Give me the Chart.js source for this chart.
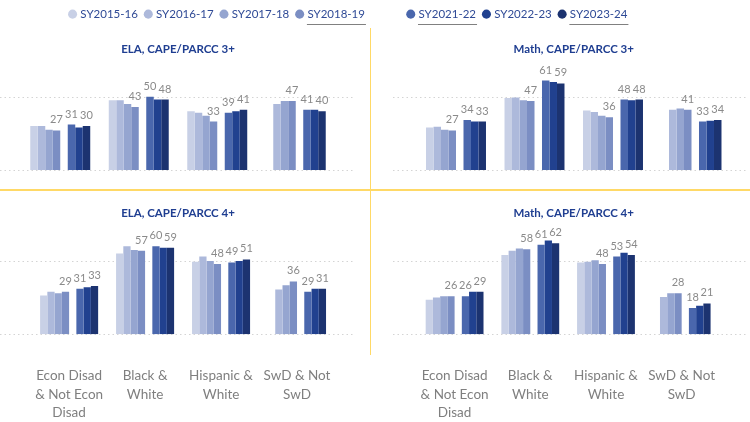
<!DOCTYPE html>
<html>
<head>
<meta charset="utf-8">
<script src="https://cdn.jsdelivr.net/npm/chart.js@4.4.0/dist/chart.umd.min.js"></script>
<style>
  html, body { margin: 0; padding: 0; background: #fff; overflow: hidden; }
  #page { position: relative; width: 750px; height: 422px; }
  canvas { position: absolute; }
  .rule { position: absolute; background: #ffd966; }
</style>
</head>
<body>
<div id="page">
  <div class="rule" style="left:0;top:189px;width:750px;height:1.5px"></div>
  <div class="rule" style="left:369.5px;top:28px;width:1.5px;height:327px"></div>
  <canvas id="legend" width="750" height="80" style="left:0;top:0"></canvas>
  <canvas id="ela3" width="370" height="160" style="left:0;top:30px"></canvas>
  <canvas id="math3" width="375" height="160" style="left:375px;top:30px"></canvas>
  <canvas id="ela4" width="370" height="232" style="left:0;top:190px"></canvas>
  <canvas id="math4" width="375" height="232" style="left:375px;top:190px"></canvas>
</div>
<script>
// Categories and series
const categories = [['Econ Disad', '& Not Econ', 'Disad'], ['Black &', 'White'], ['Hispanic &', 'White'], ['SwD & Not', 'SwD']];
const seriesNames = ['SY2015-16', 'SY2016-17', 'SY2017-18', 'SY2018-19', 'SY2021-22', 'SY2022-23', 'SY2023-24'];
const seriesColors = ['#c8d0e6', '#adb9db', '#95a5d0', '#7b8ec3', '#4a67ad', '#21418f', '#1c3370'];
const labelledSeries = ['SY2018-19', 'SY2021-22', 'SY2023-24'];
const gridValues = [0, 50];

// One row per series (same order as seriesNames), one value per category
const elaLevel3 = [
    [30, 47.5, 40, null],
    [30, 47.5, 39, 45],
    [27.5, 45, 37, 47],
    [27, 43, 33, 47],
    [31, 50, 39, 41],
    [29, 48, 40, 41],
    [30, 48, 41, 40]
];
const mathLevel3 = [
    [29, 49, 40.5, null],
    [29.5, 49.5, 39.5, 41],
    [27.5, 47.5, 37, 42],
    [27, 47, 36, 41],
    [34, 61, 48, 33],
    [33, 60, 47.5, 33.5],
    [33, 59, 48, 34]
];
const elaLevel4 = [
    [26.5, 55, 49.5, null],
    [29, 60, 53, 30.5],
    [28, 57.5, 50, 33.5],
    [29, 57, 48, 36],
    [31, 60, 49, 29],
    [32, 59, 50, 31],
    [33, 59, 51, 31]
];
const mathLevel4 = [
    [23.5, 54, 49, null],
    [25, 57, 49.5, 25.5],
    [26, 58.5, 50.5, 28],
    [26, 58, 48, 28],
    [26, 61, 53, 18],
    [29, 64, 55.5, 19.5],
    [29, 62, 54, 21]
];

const FONT = 'Lato, "Open Sans", sans-serif';
const GAP_LABEL = '\u2003\u2003';

// empty slot between the pre- and post-pandemic years
function spacer() {
    return { label: GAP_LABEL, data: categories.map(() => null), backgroundColor: 'rgba(0,0,0,0)', borderWidth: 0 };
}

function buildDatasets(rows) {
    const sets = [];
    rows.forEach((values, i) => {
        if (i === 4) sets.push(spacer());
        sets.push({
            label: seriesNames[i],
            data: values,
            backgroundColor: seriesColors[i],
            borderWidth: 0,
            showLabel: labelledSeries.includes(seriesNames[i])
        });
    });
    return sets;
}

// dotted reference lines, wider than the plot area
const dottedGrid = {
    id: 'dottedGrid',
    beforeDatasetsDraw(chart, args, opts) {
        const ctx = chart.ctx;
        const y = chart.scales.y;
        ctx.save();
        ctx.strokeStyle = '#d4d4d4';
        ctx.lineWidth = 1;
        ctx.setLineDash([1.5, 3]);
        gridValues.forEach(v => {
            const py = Math.round(y.getPixelForValue(v)) + 0.5;
            ctx.beginPath();
            ctx.moveTo(opts.from, py);
            ctx.lineTo(opts.to, py);
            ctx.stroke();
        });
        ctx.restore();
    }
};

// value labels above the highlighted series
const barLabels = {
    id: 'barLabels',
    afterDatasetsDraw(chart) {
        const ctx = chart.ctx;
        ctx.save();
        ctx.font = '11px ' + FONT;
        ctx.fillStyle = '#8a8a8a';
        ctx.textAlign = 'center';
        ctx.textBaseline = 'alphabetic';
        chart.data.datasets.forEach((ds, i) => {
            if (!ds.showLabel) return;
            chart.getDatasetMeta(i).data.forEach((bar, j) => {
                const v = ds.data[j];
                if (v == null) return;
                ctx.fillText(String(v), bar.x, bar.y - 7);
            });
        });
        ctx.restore();
    }
};

function createPanel(id, title, rows, side, bottomRow) {
    const pad = side === 'left' ? { left: 21, right: 35 } : { left: 41.75, right: 19.25 };
    const grid = side === 'left' ? { from: 0, to: 353 } : { from: 18, to: 373 };
    const xAxis = {
        display: bottomRow,
        grid: { display: false, drawTicks: false },
        border: { display: false },
        ticks: {
            autoSkip: false,
            maxRotation: 0,
            padding: 32.5,
            color: '#7f7f7f',
            font: { family: FONT, size: 13.5, lineHeight: 1.36 }
        }
    };
    if (bottomRow) xAxis.afterFit = scale => { scale.height = 87.7; };
    new Chart(document.getElementById(id), {
        type: 'bar',
        data: { labels: categories, datasets: buildDatasets(rows) },
        options: {
            responsive: false,
            animation: false,
            events: [],
            categoryPercentage: 0.764,
            barPercentage: 1.0,
            layout: { padding: { left: pad.left, right: pad.right, top: 0, bottom: bottomRow ? 0 : 20 } },
            scales: {
                x: xAxis,
                y: { display: false, min: 0, max: 70 }
            },
            plugins: {
                legend: { display: false },
                tooltip: { enabled: false },
                title: {
                    display: true,
                    text: title,
                    color: '#1f3e91',
                    font: { family: FONT, size: 11.5, weight: 'bold', lineHeight: 1.2 },
                    padding: bottomRow ? { top: 16.1, bottom: 11.7 } : { top: 12.1, bottom: 11.4 }
                },
                dottedGrid: grid
            }
        },
        plugins: [dottedGrid, barLabels]
    });
}

// underline under the years that carry value labels
const legendUnderline = {
    id: 'legendUnderline',
    afterDraw(chart) {
        const legend = chart.legend;
        const ctx = chart.ctx;
        const opts = legend.options.labels;
        ctx.save();
        ctx.strokeStyle = '#808080';
        ctx.lineWidth = 1.2;
        legend.legendItems.forEach((item, i) => {
            if (!labelledSeries.includes(item.text)) return;
            const hb = legend.legendHitBoxes[i];
            const x0 = hb.left + opts.boxWidth + opts.font.size / 2;
            const y = Math.round(hb.top + hb.height / 2 + 9.5) + 0.5;
            ctx.beginPath();
            ctx.moveTo(x0 - 0.5, y);
            ctx.lineTo(hb.left + hb.width + 1, y);
            ctx.stroke();
        });
        ctx.restore();
    }
};

function createLegend() {
    const entries = buildDatasets(seriesNames.map(() => []));
    new Chart(document.getElementById('legend'), {
        type: 'bar',
        data: { labels: [], datasets: entries },
        options: {
            responsive: false,
            animation: false,
            events: [],
            layout: { padding: { left: 0, right: 52, top: 0, bottom: 0 } },
            scales: { x: { display: false }, y: { display: false } },
            plugins: {
                tooltip: { enabled: false },
                legend: {
                    display: true,
                    position: 'top',
                    labels: {
                        usePointStyle: true,
                        pointStyle: 'circle',
                        boxWidth: 4,
                        boxHeight: 6.4,
                        padding: 8.4,
                        color: '#2f4a96',
                        font: { family: FONT, size: 11.5 }
                    }
                }
            }
        },
        plugins: [legendUnderline]
    });
}

createLegend();
createPanel('ela3', 'ELA, CAPE/PARCC 3+', elaLevel3, 'left', false);
createPanel('math3', 'Math, CAPE/PARCC 3+', mathLevel3, 'right', false);
createPanel('ela4', 'ELA, CAPE/PARCC 4+', elaLevel4, 'left', true);
createPanel('math4', 'Math, CAPE/PARCC 4+', mathLevel4, 'right', true);
</script>
</body>
</html>
